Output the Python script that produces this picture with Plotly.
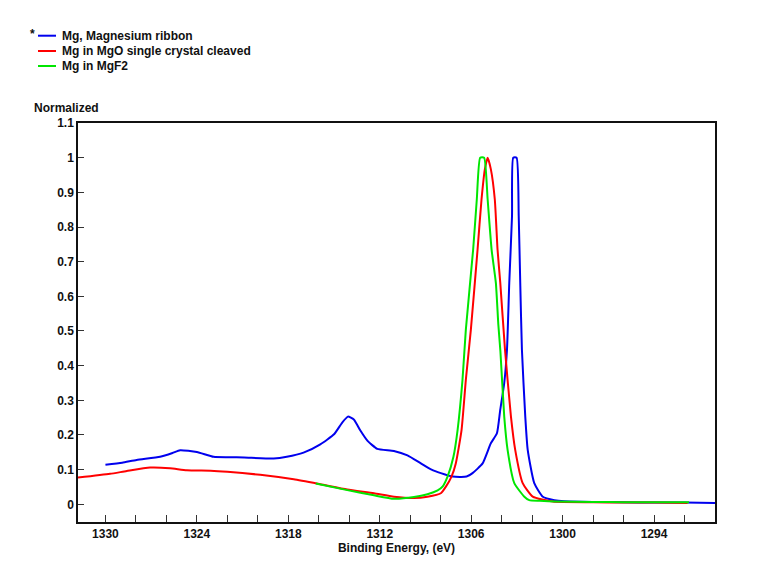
import plotly.graph_objects as go

# Mg spectra, normalized
blue_ev = [1330.0, 1328.9, 1327.95, 1326.41, 1325.6, 1325.1, 1324.0, 1322.9, 1321.9, 1320.9,
           1318.96, 1318.1, 1317.0, 1315.9, 1315.0, 1314.46, 1314.09, 1313.7, 1313.26, 1312.8,
           1312.16, 1311.07, 1310.18, 1309.3, 1308.6, 1307.99, 1307.2, 1306.3, 1305.91, 1305.25,
           1304.71, 1304.31, 1304.1, 1303.83, 1303.65, 1303.5, 1303.32, 1303.24, 1303.02, 1302.88,
           1302.78, 1302.67, 1302.45, 1302.29, 1301.86, 1301.3, 1300.54, 1299.9, 1298.0, 1296.0,
           1294.0, 1292.0, 1290.0]
blue_norm = [0.114, 0.12, 0.128, 0.137, 0.148, 0.156, 0.151, 0.137, 0.136, 0.135,
             0.132, 0.137, 0.149, 0.173, 0.202, 0.236, 0.253, 0.245, 0.212, 0.183,
             0.16, 0.154, 0.141, 0.118, 0.1, 0.09, 0.08, 0.08, 0.09, 0.118,
             0.176, 0.205, 0.27, 0.35, 0.446, 0.639, 0.831, 1.0, 1.0, 0.831,
             0.639, 0.446, 0.253, 0.157, 0.061, 0.022, 0.012, 0.009, 0.007, 0.006,
             0.005, 0.005, 0.004]

red_ev = [1331.8, 1329.7, 1328.6, 1327.07, 1325.76, 1324.66, 1323.1, 1322.0, 1319.84, 1317.64,
          1315.9, 1314.13, 1312.38, 1311.07, 1309.75, 1308.87, 1307.99, 1307.66, 1307.29, 1307.01,
          1306.63, 1306.35, 1306.02, 1305.58, 1305.32, 1305.1, 1304.92, 1304.71, 1304.45, 1304.27,
          1304.09, 1303.78, 1303.39, 1303.11, 1302.62, 1301.96, 1300.64, 1298.0, 1296.0, 1294.0,
          1291.8]
red_norm = [0.077, 0.088, 0.096, 0.106, 0.104, 0.098, 0.097, 0.094, 0.085, 0.072,
            0.058, 0.043, 0.032, 0.022, 0.018, 0.022, 0.032, 0.051, 0.08, 0.118,
            0.215, 0.359, 0.504, 0.735, 0.88, 0.967, 1.0, 0.967, 0.88, 0.735,
            0.639, 0.446, 0.253, 0.157, 0.061, 0.022, 0.008, 0.006, 0.005, 0.005,
            0.004]

green_ev = [1316.2, 1314.13, 1312.38, 1311.07, 1309.75, 1308.87, 1308.2, 1307.88, 1307.55, 1307.16,
            1306.89, 1306.57, 1306.35, 1305.87, 1305.63, 1305.41, 1305.15, 1304.92, 1304.66, 1304.38,
            1304.22, 1304.08, 1303.83, 1303.61, 1303.17, 1302.51, 1302.19, 1301.5, 1300.5, 1298.0,
            1296.0, 1294.0, 1291.7]
green_norm = [0.06, 0.041, 0.026, 0.016, 0.021, 0.029, 0.04, 0.051, 0.08, 0.138,
              0.215, 0.359, 0.504, 0.735, 0.88, 1.0, 1.0, 0.88, 0.735, 0.639,
              0.52, 0.44, 0.253, 0.157, 0.061, 0.022, 0.012, 0.01, 0.008, 0.007,
              0.006, 0.006, 0.006]

series_names = ["Mg, Magnesium ribbon", "Mg in MgO single crystal cleaved", "Mg in MgF2"]
series_colors = ["#0000ee", "#ff0000", "#00e600"]

x_tickvals = [1330, 1328, 1326, 1324, 1322, 1320, 1318, 1316, 1314, 1312, 1310, 1308,
              1306, 1304, 1302, 1300, 1298, 1296, 1294, 1292]
x_ticktext = ["1330", "", "", "1324", "", "", "1318", "", "", "1312", "", "",
              "1306", "", "", "1300", "", "", "1294", ""]
y_tickvals = [0, 0.1, 0.2, 0.3, 0.4, 0.5, 0.6, 0.7, 0.8, 0.9, 1.0, 1.1]
y_ticktext = ["0", "0.1", "0.2", "0.3", "0.4", "0.5", "0.6", "0.7", "0.8", "0.9", "1", "1.1"]

FONT = "Liberation Sans, Arial, sans-serif"
# page body has an 8px margin, so the figure is a bit smaller than the window
OFF = 8
W, H = 760, 572
L, R, T, B = 70, 53, 115, 58


def px_x(p):
    return (p - OFF - L) / (W - L - R)


def px_y(p):
    return (H - B - (p - OFF)) / (H - T - B)


txt_font = dict(family=FONT, size=12, color="#111", weight="bold")

fig = go.Figure()
for xs, ys, name, col in zip([blue_ev, red_ev, green_ev], [blue_norm, red_norm, green_norm],
                             series_names, series_colors):
    fig.add_trace(go.Scatter(x=xs, y=ys, mode="lines", name=name,
                             line=dict(color=col, width=2, shape="spline", smoothing=0.5),
                             showlegend=False))

# hand made legend, the native one spaces the rows too far apart
shapes = []
annotations = []
rows_y = [35.7, 51, 66]
for name, col, ry in zip(series_names, series_colors, rows_y):
    shapes.append(dict(type="line", xref="paper", yref="paper",
                       x0=px_x(38), x1=px_x(56), y0=px_y(ry), y1=px_y(ry),
                       line=dict(color=col, width=2)))
    annotations.append(dict(text=name, xref="paper", yref="paper", x=px_x(60), y=px_y(ry),
                            xanchor="left", yanchor="middle", showarrow=False, font=txt_font))
annotations.append(dict(text="*", xref="paper", yref="paper", x=px_x(32), y=px_y(34),
                        xanchor="center", yanchor="middle", showarrow=False, font=txt_font))
annotations.append(dict(text="Normalized", xref="paper", yref="paper", x=px_x(32), y=px_y(108),
                        xanchor="left", yanchor="middle", showarrow=False, font=txt_font))

fig.update_layout(
    width=W, height=H,
    margin=dict(l=L, r=R, t=T, b=B),
    paper_bgcolor="white", plot_bgcolor="white",
    shapes=shapes, annotations=annotations,
    xaxis=dict(range=[1331.8, 1290.0], tickmode="array", tickvals=x_tickvals, ticktext=x_ticktext,
               ticks="inside", ticklen=7, tickwidth=1, tickcolor="#333",
               showline=True, linecolor="#111", linewidth=1.5, mirror=True,
               showgrid=False, zeroline=False, tickfont=txt_font,
               title=dict(text="Binding Energy, (eV)", standoff=2, font=txt_font)),
    yaxis=dict(range=[-0.051, 1.1], tickmode="array", tickvals=y_tickvals, ticktext=y_ticktext,
               ticks="inside", ticklen=6, tickwidth=1, tickcolor="#333",
               showline=True, linecolor="#111", linewidth=1.5, mirror=True,
               showgrid=False, zeroline=False, tickfont=txt_font),
)

fig.write_html("out.html")
